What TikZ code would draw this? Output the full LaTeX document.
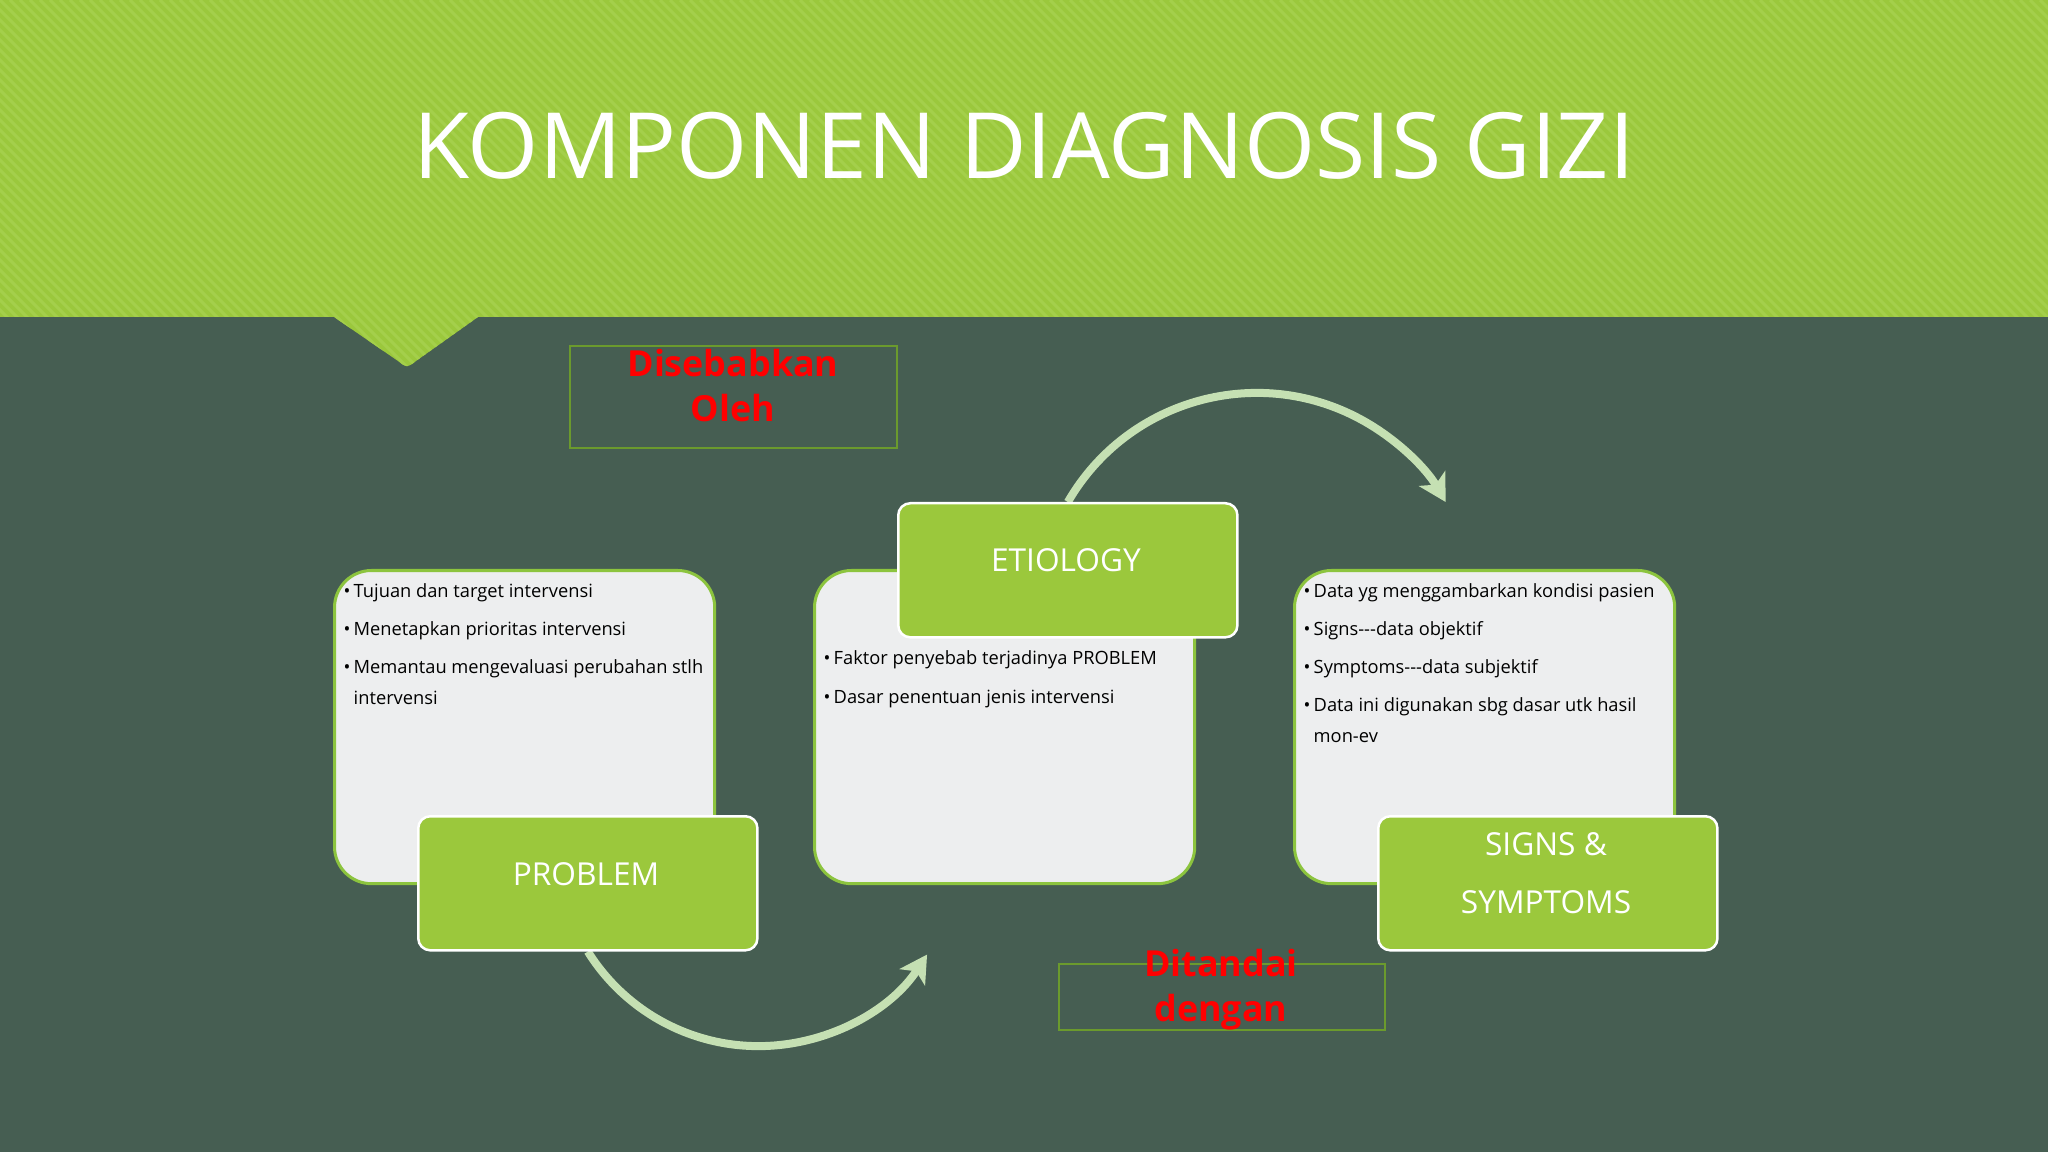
\documentclass[tikz,border=0pt]{standalone}
\usepackage{fontspec}
\setmainfont{Open Sans}
\usetikzlibrary{arrows.meta}
\definecolor{bgdark}{HTML}{465E52}
\definecolor{hdrgreen}{HTML}{9BC83C}
\definecolor{stripe}{HTML}{A4CF4B}
\definecolor{lightbox}{HTML}{EDEEEF}
\definecolor{lboxedge}{HTML}{8CC43E}
\definecolor{arrowgreen}{HTML}{C5E0B3}
\definecolor{labeledge}{HTML}{6B9A2D}
\pgfdeclarelayer{back}
\pgfdeclarelayer{mid}
\pgfsetlayers{back,mid,main}
\tikzset{
  panel/.style={draw=lboxedge, line width=0.03cm, fill=lightbox, rounded corners=0.37cm,
    minimum width=3.80cm, minimum height=3.13cm, inner sep=0, anchor=north west},
  tagbox/.style={draw=white, line width=0.025cm, fill=hdrgreen, rounded corners=0.12cm,
    minimum width=3.39cm, minimum height=1.34cm, inner sep=0, anchor=north west},
  tagtext/.style={text=white, font=\fontsize{9}{16.3}\selectfont, align=center, anchor=base, inner sep=0},
  item/.style={font=\fontsize{5.2}{6}\selectfont, anchor=base west, inner sep=0, text=black},
  dot/.style={font=\fontsize{5.2}{6}\selectfont, anchor=base west, inner sep=0, text=black},
  redbox/.style={draw=labeledge, line width=0.022cm, anchor=north west, inner sep=0},
  redtext/.style={text=red, font=\bfseries\fontsize{10.2}{12.8}\selectfont, anchor=base, inner sep=0},
  flow/.style={draw=arrowgreen, line width=0.08cm,
    -{Stealth[length=0.27cm,width=0.30cm,inset=0.07cm]}}
}
\begin{document}
\begin{tikzpicture}[x=0.01cm,y=0.01cm]
\begin{pgfonlayer}{back}
  \fill[bgdark] (0,0) rectangle (2048,-1152);
  \path[fill=hdrgreen] (0,0) -- (2048,0) -- (2048,-317) -- (478,-317) -- (416,-361)
     .. controls (407,-368) .. (398,-361) -- (334,-317) -- (0,-317) -- cycle;
  \begin{scope}
    \clip (0,0) -- (2048,0) -- (2048,-317) -- (478,-317) -- (416,-361)
     .. controls (407,-368) .. (398,-361) -- (334,-317) -- (0,-317) -- cycle;
    \foreach \i in {-400,-390,...,2050}
      \draw[stripe, line width=0.03cm] (\i,0) -- (\i+400,-400);
  \end{scope}
\end{pgfonlayer}
\useasboundingbox (0,0) rectangle (2048,-1152);

\node[anchor=base, text=white, font=\fontsize{26}{30}\selectfont, inner sep=0] (title) at (1024,-179) {KOMPONEN DIAGNOSIS GIZI};

% panels
\node[panel] (probpanel) at (333,-569) {};
\node[panel] (etiopanel) at (813,-569) {};
\node[panel] (signpanel) at (1293,-569) {};

% tag boxes
\node[tagbox] (prob) at (417,-815) {};
\node[tagbox] (etio) at (897,-502) {};
\node[tagbox] (sign) at (1377,-815) {};
\node[tagtext] (probtxt) at (586,-885) {PROBLEM};
\node[tagtext] (etiotxt) at (1066,-571) {ETIOLOGY};
\node[tagtext] (signtxt) at (1546,-913) {SIGNS \&\\SYMPTOMS};

% arrows
\begin{pgfonlayer}{mid}
  \draw[flow] (etio.north) arc[start angle=150, end angle=30, radius=2.18cm];
  \draw[flow] (prob.south) arc[start angle=212, end angle=327, radius=2.01cm];
\end{pgfonlayer}

% problem items
\node[dot] (pd1) at (343,-597) {•};
\node[item] (p1) at (353,-597) {Tujuan dan target intervensi};
\node[dot] (pd2) at (343,-635) {•};
\node[item] (p2) at (353,-635) {Menetapkan prioritas intervensi};
\node[dot] (pd3) at (343,-673) {•};
\node[item] (p3) at (353,-673) {Memantau mengevaluasi perubahan stlh};
\node[item] (p4) at (353,-704) {intervensi};

% etiology items
\node[dot] (ed1) at (823,-665) {•};
\node[item] (e1) at (833,-665) {Faktor penyebab terjadinya PROBLEM};
\node[dot] (ed2) at (823,-703) {•};
\node[item] (e2) at (833,-703) {Dasar penentuan jenis intervensi};

% signs items
\node[dot] (sd1) at (1303,-597) {•};
\node[item] (s1) at (1313,-597) {Data yg menggambarkan kondisi pasien};
\node[dot] (sd2) at (1303,-635) {•};
\node[item] (s2) at (1313,-635) {Signs-{}-{}-data objektif};
\node[dot] (sd3) at (1303,-673) {•};
\node[item] (s3) at (1313,-673) {Symptoms-{}-{}-data subjektif};
\node[dot] (sd4) at (1303,-711) {•};
\node[item] (s4) at (1313,-711) {Data ini digunakan sbg dasar utk hasil};
\node[item] (s5) at (1313,-742) {mon-ev};

% red labels
\node[redbox, minimum width=3.27cm, minimum height=1.02cm] (causebox) at (569,-345) {};
\node[redtext] (cause1) at (733,-377) {Disebabkan};
\node[redtext] (cause2) at (733,-422) {Oleh};
\node[redbox, minimum width=3.26cm, minimum height=0.66cm] (markbox) at (1058,-963) {};
\node[redtext] (mark1) at (1221,-976) {Ditandai};
\node[redtext] (mark2) at (1221,-1021) {dengan};
\end{tikzpicture}
\end{document}
